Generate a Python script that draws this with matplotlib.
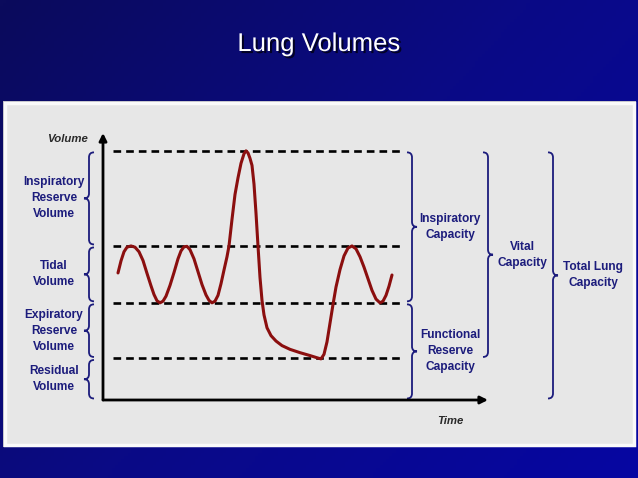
import numpy as np
import matplotlib.pyplot as plt
from matplotlib.path import Path
from matplotlib.patches import PathPatch, Rectangle
from matplotlib.colors import LinearSegmentedColormap
import matplotlib.patheffects as pe

# volume levels of the dashed lines (0 = time axis): RV, FRC, end of tidal breath, TLC
bounds = [0.0, 1.0, 2.34, 3.71, 6.0]

# spirometer trace (time in s, volume in arbitrary units)
time = [0.75, 0.90, 1.05, 1.20, 1.40, 1.60, 1.80, 2.00, 2.20, 2.40, 2.55, 2.70,
        2.85, 3.00, 3.15, 3.35, 3.55, 3.75, 3.90, 4.05, 4.20, 4.35, 4.55, 4.75,
        4.95, 5.15, 5.30, 5.45, 5.60, 5.75, 5.90, 6.05, 6.20, 6.30, 6.45, 6.60,
        6.75, 6.90, 7.05, 7.15, 7.25, 7.35, 7.45, 7.55, 7.65, 7.75, 7.85, 7.95,
        8.05, 8.20, 8.40, 8.65, 8.95, 9.35, 9.85, 10.35, 10.75, 10.90, 11.05,
        11.20, 11.35, 11.50, 11.65, 11.85, 12.05, 12.25, 12.45, 12.65, 12.85,
        13.05, 13.25, 13.45, 13.65, 13.85, 14.00, 14.15, 14.30, 14.45]
volume = [3.06, 3.35, 3.57, 3.68, 3.71, 3.68, 3.57, 3.36, 3.05, 2.75, 2.54, 2.39,
          2.34, 2.38, 2.50, 2.76, 3.07, 3.40, 3.59, 3.69, 3.70, 3.62, 3.40, 3.09,
          2.78, 2.53, 2.40, 2.34, 2.38, 2.52, 2.80, 3.13, 3.45, 3.71, 4.35, 4.95,
          5.35, 5.70, 5.93, 6.00, 5.95, 5.82, 5.65, 5.20, 4.50, 3.71, 2.95, 2.40,
          2.05, 1.74, 1.55, 1.42, 1.31, 1.22, 1.14, 1.07, 1.01, 0.99, 1.10,
          1.40, 1.85, 2.30, 2.72, 3.14, 3.47, 3.66, 3.71, 3.64, 3.45,
          3.20, 2.92, 2.64, 2.43, 2.34, 2.38, 2.52, 2.74, 3.01]

# labels on the left, each spanning two of the bounds
left_labels = ['Inspiratory\nReserve\nVolume', 'Tidal\nVolume',
               'Expiratory\nReserve\nVolume', 'Residual\nVolume']
left_spans = [(3, 4), (2, 3), (1, 2), (0, 1)]

# capacities on the right
right_labels = ['Inspiratory\nCapacity', 'Functional\nReserve\nCapacity',
                'Vital\nCapacity', 'Total Lung\nCapacity']
right_spans = [(2, 4), (0, 2), (1, 4), (0, 4)]
right_brace_x = [15.2, 15.2, 19.0, 22.25]
right_text_x = [17.35, 17.35, 20.95, 24.5]

NAVY = '#1c1c7c'
FONT = ['Liberation Sans Narrow', 'Liberation Sans', 'DejaVu Sans']

W, H = 638, 478
fig = plt.figure(figsize=(W / 100, H / 100), dpi=100)

# slide background, darker top left, brighter bottom right
bg = fig.add_axes([0, 0, 1, 1])
gx, gy = np.meshgrid(np.linspace(0, 1, 200), np.linspace(0, 1, 150))
grad = 0.6 * gx + 0.4 * gy
cmap = LinearSegmentedColormap.from_list('slide', ['#0b0b5c', '#0a0a86', '#0606a2'])
bg.imshow(grad, extent=[0, 1, 0, 1], aspect='auto', cmap=cmap, origin='upper')
bg.add_patch(Rectangle((3 / W, 31 / H), 633 / W, 346 / H, facecolor='#b8b8c0',
                       edgecolor='none'))
bg.add_patch(Rectangle((5 / W, 33 / H), 629 / W, 342 / H, facecolor='#e7e7e7',
                       edgecolor='#fafafa', lw=2.5))
bg.set_xlim(0, 1)
bg.set_ylim(0, 1)
bg.axis('off')

fig.text(0.5, 1 - 44 / H, 'Lung Volumes', color='white', ha='center', va='center',
         fontsize=18.5, family=FONT,
         path_effects=[pe.withSimplePatchShadow(offset=(1.5, -1.5), shadow_rgbFace='black', alpha=0.7)])

# diagram axes
ax = fig.add_axes([103 / W, 78 / H, 385 / W, 267 / H])
ax.set_xlim(0, 19.25)
ax.set_ylim(0, 6.43)
ax.axis('off')

px_x = 385 / 19.25
px_y = 267 / 6.43

ax.hlines(bounds[1:], 0.5, 15.05, colors='black', lw=1.9, linestyles=(0, (2.9, 1.9)))
ax.plot(time, volume, color='#8b0f0f', lw=2.2, solid_joinstyle='round', solid_capstyle='round')

arrow = dict(arrowstyle='-|>', color='black', lw=2.0, mutation_scale=11, shrinkA=0, shrinkB=0)
ax.annotate('', xy=(0, 1), xytext=(0, 0), xycoords='axes fraction', arrowprops=arrow)
ax.annotate('', xy=(1, 0), xytext=(0, 0), xycoords='axes fraction', arrowprops=arrow)

ax.text(-0.75, 6.43 - 6 / px_y, 'Volume', ha='right', va='center', fontsize=8.2,
        style='italic', weight='bold', color='#2a2a2a', family=FONT, clip_on=False)
ax.text(17.35, -21 / px_y, 'Time', ha='center', va='center', fontsize=8.2,
        style='italic', weight='bold', color='#2a2a2a', family=FONT, clip_on=False)


def brace(x, lo, hi, w):
    # curly brace from lo to hi; w in pixels, negative points to the left
    g = 1.5 / px_y
    lo, hi = lo + g, hi - g
    dx = w / px_x
    h = dx / 2
    r = 5 / px_y
    ym = (lo + hi) / 2
    verts = [(x, hi), (x + h, hi), (x + h, hi - r),
             (x + h, ym + r),
             (x + h, ym), (x + dx, ym),
             (x + h, ym), (x + h, ym - r),
             (x + h, lo + r),
             (x + h, lo), (x, lo)]
    codes = [Path.MOVETO, Path.CURVE3, Path.CURVE3, Path.LINETO, Path.CURVE3, Path.CURVE3,
             Path.CURVE3, Path.CURVE3, Path.LINETO, Path.CURVE3, Path.CURVE3]
    ax.add_patch(PathPatch(Path(verts, codes), facecolor='none', edgecolor=NAVY,
                           lw=1.3, clip_on=False))


for label, (i, j) in zip(left_labels, left_spans):
    brace(-0.45, bounds[i], bounds[j], -10)
    ax.text(-2.45, (bounds[i] + bounds[j]) / 2, label, ha='center', va='center',
            fontsize=8.6, weight='bold', color=NAVY, family=FONT, linespacing=1.45,
            clip_on=False)

for label, (i, j), bx, tx in zip(right_labels, right_spans, right_brace_x, right_text_x):
    brace(bx, bounds[i], bounds[j], 10)
    ax.text(tx, (bounds[i] + bounds[j]) / 2, label, ha='center', va='center',
            fontsize=8.6, weight='bold', color=NAVY, family=FONT, linespacing=1.45,
            clip_on=False)

fig.savefig('out.png', dpi=100)
